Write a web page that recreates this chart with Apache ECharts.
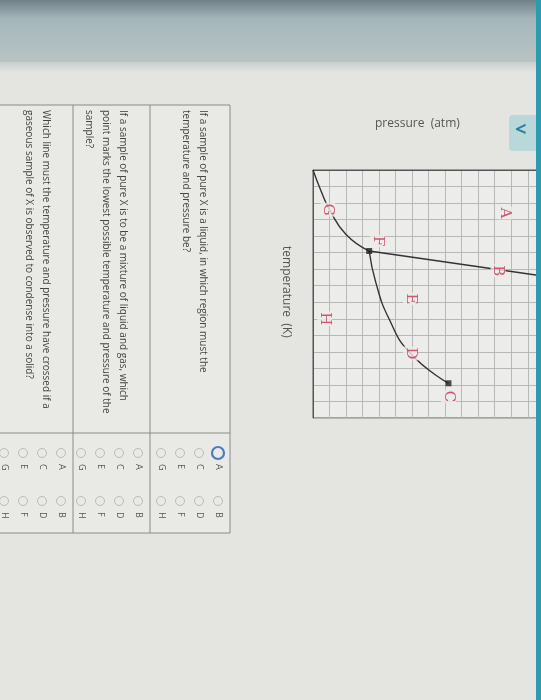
<!DOCTYPE html>
<html>
<head>
<meta charset="utf-8">
<script src="https://cdn.jsdelivr.net/npm/echarts@6/dist/echarts.min.js"></script>
<style>
html,body{margin:0;padding:0;background:#e4e4e1;}
#chart{width:541px;height:700px;}
</style>
</head>
<body>
<div id="chart"></div>
<script>
// phase diagram, grid units (x right, y down from top)
var solidGasCurve = [[0, 0], [0.5, 1.3], [1, 2.4], [2, 3.9], [3.4, 4.9]];
var solidLiquidLine = [[3.4, 4.9], [13.8, 6.4]];
var liquidGasCurve = [[3.4, 4.9], [3.8, 6.8], [4.6, 9.0], [5.9, 11.1], [8.2, 12.9]];
var keyPoints = [[3.4, 4.9], [8.2, 12.9]];
var regionLabels = [
    ['A', 11.6, 2.6], ['B', 11.2, 6.1], ['C', 8.2, 13.7], ['D', 5.9, 11.1],
    ['E', 5.9, 7.8], ['F', 3.9, 4.3], ['G', 0.9, 2.4], ['H', 0.7, 9.0]
];

var questions = [
    ['If a sample of pure X is a liquid, in which region must the', 'temperature and pressure be?'],
    ['If a sample of pure X is to be a mixture of liquid and gas, which', 'point marks the lowest possible temperature and pressure of the', 'sample?'],
    ['Which line must the temperature and pressure have crossed if a', 'gaseous sample of X is observed to condense into a solid?']
];
var optionLetters = [['A', 'B'], ['C', 'D'], ['E', 'F'], ['G', 'H']];

var myChart = echarts.init(document.getElementById('chart'));

var FONT = '"Open Sans", "DejaVu Sans", sans-serif';
var ROT = -Math.PI / 2;
var graphics = [];

// top band
graphics.push({type: 'rect', shape: {x: 0, y: 0, width: 541, height: 62},
    style: {fill: new echarts.graphic.LinearGradient(0, 0, 0, 1, [
        {offset: 0, color: '#6f8087'}, {offset: 0.3, color: '#a5b6ba'}, {offset: 1, color: '#b8c4c4'}])}});
graphics.push({type: 'rect', shape: {x: 0, y: 62, width: 541, height: 10},
    style: {fill: new echarts.graphic.LinearGradient(0, 0, 0, 1, [
        {offset: 0, color: '#c8cfcd'}, {offset: 1, color: '#e4e4e1'}])}});

// table
var colX = [0, 73, 150, 230];
graphics.push({type: 'rect', shape: {x: -2, y: 105, width: 232, height: 428},
    style: {fill: '#e9e9e6', stroke: '#8a8a8a', lineWidth: 1}});
for (var c = 1; c < 3; c++) {
    graphics.push({type: 'line', shape: {x1: colX[c], y1: 105, x2: colX[c], y2: 533},
        style: {stroke: '#8a8a8a', lineWidth: 1}});
}
graphics.push({type: 'line', shape: {x1: 0, y1: 433, x2: 230, y2: 433},
    style: {stroke: '#8a8a8a', lineWidth: 1}});

questions.forEach(function (lines, qi) {
    var right = colX[3 - qi] - 22;
    lines.forEach(function (t, li) {
        graphics.push({type: 'text', x: right - li * 17, y: 110, rotation: ROT,
            style: {text: t, font: '10px ' + FONT, fill: '#444', align: 'left', verticalAlign: 'top'}});
    });
    optionLetters.forEach(function (pair, ri) {
        var cx = colX[3 - qi] - 12 - ri * 19;
        pair.forEach(function (letter, k) {
            var cy = 453 + k * 48;
            var sel = (qi === 0 && ri === 0 && k === 0);
            graphics.push({type: 'circle', shape: {cx: cx, cy: cy, r: sel ? 6 : 4.5},
                style: {fill: 'none', stroke: sel ? '#4a7cc0' : '#bbb', lineWidth: sel ? 2.2 : 1}});
            graphics.push({type: 'text', x: cx + 5, y: cy + 11, rotation: ROT,
                style: {text: letter, font: '9px ' + FONT, fill: '#555', align: 'left', verticalAlign: 'top'}});
        });
    });
});

// axis titles
graphics.push({type: 'text', x: 375, y: 118,
    style: {text: 'pressure  (atm)', font: '12px ' + FONT, fill: '#555', align: 'left', verticalAlign: 'top'}});
graphics.push({type: 'text', x: 292, y: 246, rotation: ROT,
    style: {text: 'temperature  (K)', font: '12px ' + FONT, fill: '#555', align: 'left', verticalAlign: 'top'}});

// back button and teal strip
graphics.push({type: 'rect', shape: {x: 509, y: 115, width: 34, height: 36, r: 4},
    style: {fill: '#b9d8d9'}});
graphics.push({type: 'text', x: 515, y: 120,
    style: {text: '<', font: 'bold 20px ' + FONT, fill: '#2a7fa0', align: 'left', verticalAlign: 'top'}});
graphics.push({type: 'rect', shape: {x: 536, y: 0, width: 5, height: 700}, style: {fill: '#2b9bb0'}, z: 100});

var option = {
    backgroundColor: 'transparent',
    animation: false,
    graphic: graphics,
    grid: {left: 313, top: 170, width: 228, height: 248, show: true,
        backgroundColor: '#ececea', borderColor: '#555', borderWidth: 1},
    xAxis: {type: 'value', min: 0, max: 13.8, interval: 1,
        axisLabel: {show: false}, axisTick: {show: false},
        axisLine: {show: true, lineStyle: {color: '#555'}},
        splitLine: {lineStyle: {color: '#b8b8b8'}}},
    yAxis: {type: 'value', min: 0, max: 15, interval: 1, inverse: true,
        axisLabel: {show: false}, axisTick: {show: false},
        axisLine: {show: true, lineStyle: {color: '#555'}},
        splitLine: {lineStyle: {color: '#b8b8b8'}}},
    series: [
        {type: 'line', data: solidGasCurve, smooth: 0.5, symbol: 'none',
            lineStyle: {color: '#333', width: 1.4}},
        {type: 'line', data: solidLiquidLine, symbol: 'none',
            lineStyle: {color: '#333', width: 1.4}},
        {type: 'line', data: liquidGasCurve, smooth: 0.5, symbol: 'none',
            lineStyle: {color: '#333', width: 1.4}},
        {type: 'scatter', data: keyPoints, symbol: 'rect', symbolSize: 6,
            itemStyle: {color: '#222'}, z: 5},
        {type: 'scatter', symbol: 'circle', symbolSize: 2, z: 6,
            itemStyle: {color: 'rgba(0,0,0,0)'},
            data: regionLabels.map(function (r) { return {name: r[0], value: [r[1], r[2]]}; }),
            label: {show: true, position: 'inside', rotate: -90, formatter: '{b}',
                fontFamily: '"DejaVu Serif", "Liberation Serif", serif', fontSize: 15,
                color: '#c8324f', backgroundColor: '#ececea', padding: [0, 1]},
            labelLayout: {hideOverlap: false}}
    ]
};

myChart.setOption(option);
</script>
</body>
</html>
